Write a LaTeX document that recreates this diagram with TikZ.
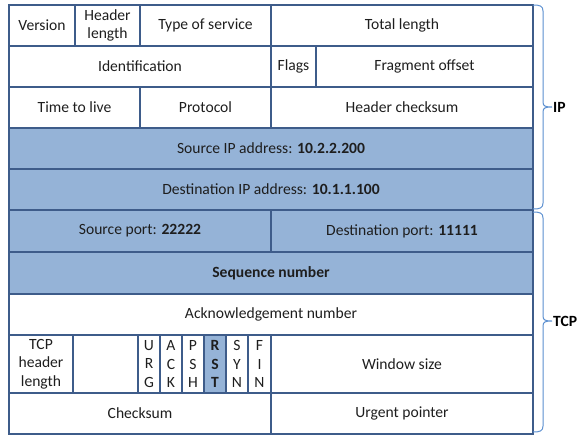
\documentclass[tikz,border=0pt]{standalone}
\usepackage{fontspec}
\setmainfont{Carlito}
\definecolor{gridc}{RGB}{62,92,138}
\definecolor{fillc}{RGB}{149,179,215}
\definecolor{bracec}{RGB}{91,143,208}
\definecolor{txtc}{RGB}{30,30,30}
\tikzset{
  cellbox/.style={draw=gridc, line width=2pt, inner sep=0pt, outer sep=0pt,
    text=txtc, align=center, font=\fontsize{15.6}{17.5}\selectfont},
  shaded/.style={fill=fillc},
  tall/.style={font=\fontsize{15.6}{18.5}\selectfont},
  bracestyle/.style={draw=bracec, line width=1pt},
  bracelabel/.style={text=black, font=\fontsize{15.6}{17.5}\selectfont\bfseries, anchor=west, inner sep=1pt}
}
% #1 options, #2 name, #3 x1, #4 y1, #5 x2, #6 y2, #7 text
\newcommand{\mkcell}[7][]{%
  \node[cellbox,#1,minimum width={(#5-#3)*1pt},minimum height={(#6-#4)*1pt}]
    (#2) at ({(#3+#5)/2},{(#4+#6)/2}) {#7};}
\begin{document}
\begin{tikzpicture}[x=1pt,y=-1pt]
\useasboundingbox (0,0) rectangle (583,442);
% fills first
\mkcell[shaded]{srcip}{9}{128}{533}{169}{Source IP address: \textbf{10.2.2.200}}
\mkcell[shaded]{dstip}{9}{169}{533}{210}{Destination IP address: \textbf{10.1.1.100}}
\mkcell[shaded]{srcport}{9}{210}{271}{252}{Source port: \textbf{22222}}
\mkcell[shaded]{dstport}{271}{210}{533}{252}{Destination port: \textbf{11111}}
\mkcell[shaded]{seq}{9}{252}{533}{294}{\textbf{Sequence number}}
% row 1
\mkcell{ver}{9}{5}{75}{46}{Version}
\mkcell{hlen}{75}{5}{140}{46}{Header\\length}
\mkcell{tos}{140}{5}{271}{46}{Type of service}
\mkcell{totlen}{271}{5}{533}{46}{Total length}
% row 2
\mkcell{ident}{9}{46}{271}{87}{Identification}
\mkcell{flags}{271}{46}{316}{87}{Flags}
\mkcell{frag}{316}{46}{533}{87}{Fragment offset}
% row 3
\mkcell{ttl}{9}{87}{140}{128}{Time to live}
\mkcell{proto}{140}{87}{271}{128}{Protocol}
\mkcell{hcs}{271}{87}{533}{128}{Header checksum}
% row 8
\mkcell{ack}{9}{294}{533}{335}{Acknowledgement number}
% row 9
\mkcell[tall]{thl}{9}{335}{73}{393}{TCP\\header\\length}
\mkcell{resv}{73}{335}{138}{393}{}
\mkcell[tall]{urg}{138}{335}{160}{393}{U\\R\\G}
\mkcell[tall]{ackf}{160}{335}{182}{393}{A\\C\\K}
\mkcell[tall]{psh}{182}{335}{204}{393}{P\\S\\H}
\mkcell[tall,shaded]{rst}{204}{335}{226}{393}{\textbf{R}\\\textbf{S}\\\textbf{T}}
\mkcell[tall]{syn}{226}{335}{248}{393}{S\\Y\\N}
\mkcell[tall]{fin}{248}{335}{271}{393}{F\\I\\N}
\mkcell{win}{271}{335}{533}{393}{Window size}
% row 10
\mkcell{cks}{9}{393}{271}{434}{Checksum}
\mkcell{urgp}{271}{393}{533}{434}{Urgent pointer}
% IP brace
\draw[bracestyle] (533,5) .. controls (540,5) and (543,6) .. (543,11)
  -- (543,102) .. controls (543,106) and (545,107) .. (552,107)
  .. controls (545,107) and (543,108) .. (543,112)
  -- (543,203) .. controls (543,208) and (540,209) .. (533,209);
\coordinate (iptip) at (552,107);
\node[bracelabel] (iplab) at (iptip) {IP};
% TCP brace
\draw[bracestyle] (533,212) .. controls (540,212) and (543,213) .. (543,218)
  -- (543,316) .. controls (543,320) and (545,321) .. (552,321)
  .. controls (545,321) and (543,322) .. (543,326)
  -- (543,426) .. controls (543,431) and (540,432) .. (533,432);
\coordinate (tcptip) at (552,321);
\node[bracelabel] (tcplab) at (tcptip) {TCP};
\end{tikzpicture}
\end{document}
